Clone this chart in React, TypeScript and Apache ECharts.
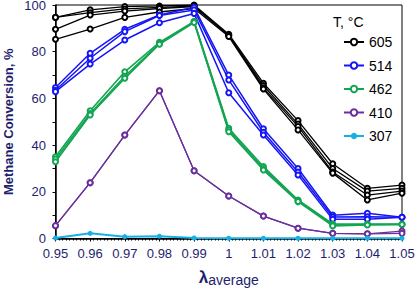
import React, { useEffect, useRef } from "react";
import * as echarts from "echarts";

const lambdas = [0.95, 0.96, 0.97, 0.98, 0.99, 1.0, 1.01, 1.02, 1.03, 1.04, 1.05];
const yTicks = [0, 20, 40, 60, 80, 100];

const temps = ["605", "514", "462", "410", "307"];
const colors = ["#000000", "#1515f5", "#12a552", "#6a2f9c", "#16b0e6"];

const t605a = [94.7, 97.9, 99.3, 99.6, 100, 87.5, 66.5, 50.5, 32.0, 21.5, 22.9];
const t605b = [94.7, 96.7, 98.3, 99.0, 99.5, 87.0, 65.5, 49.0, 30.0, 20.3, 21.5];
const t605c = [89.6, 95.7, 97.4, 98.5, 99.3, 87.0, 64.5, 48.0, 28.5, 18.6, 20.3];
const t605d = [85.3, 89.7, 94.7, 97.0, 98.5, 86.5, 64.0, 46.5, 28.0, 16.5, 19.4];

const t514a = [64.7, 79.3, 89.6, 95.7, 99.0, 70.0, 47.0, 30.0, 10.0, 10.8, 9.1];
const t514b = [63.5, 77.2, 88.6, 95.5, 97.9, 67.9, 45.5, 28.5, 9.2, 9.3, 9.1];
const t514c = [62.9, 74.7, 85.0, 92.4, 96.4, 62.4, 44.3, 27.2, 8.2, 8.2, 9.1];

const t462a = [35.0, 54.7, 71.4, 84.0, 93.0, 47.2, 30.8, 16.5, 6.2, 6.2, 6.2];
const t462b = [34.0, 53.5, 69.5, 83.5, 92.8, 46.5, 30.0, 16.0, 5.8, 6.0, 6.0];
const t462c = [32.9, 52.9, 68.6, 83.2, 92.5, 45.7, 29.3, 15.8, 5.4, 5.8, 6.0];

const t410a = [5.5, 23.9, 44.3, 63.3, 29.0, 18.2, 9.6, 4.4, 2.2, 2.0, 3.2];
const t410b = [5.5, 23.9, 44.3, 63.3, 29.0, 18.2, 9.6, 4.4, 2.2, 2.0, 2.2];

const t307a = [0.2, 2.2, 0.8, 1.0, 0.2, 0.1, 0.1, 0.1, 0.1, 0.1, 0.1];

const groups: { temp: string; lines: number[][]; width: number; symbol: string }[] = [
  { temp: "605", lines: [t605a, t605b, t605c, t605d], width: 1.3, symbol: "emptyCircle" },
  { temp: "514", lines: [t514a, t514b, t514c], width: 1.5, symbol: "emptyCircle" },
  { temp: "462", lines: [t462a, t462b, t462c], width: 1.6, symbol: "emptyCircle" },
  { temp: "410", lines: [t410a, t410b], width: 1.3, symbol: "emptyCircle" },
  { temp: "307", lines: [t307a], width: 2, symbol: "circle" },
];

const FONT = "'Liberation Sans', Arial, sans-serif";
const NAVY = "#1e1e6e";

export default function App() {
  const ref = useRef<HTMLDivElement>(null);
  useEffect(() => {
    if (!ref.current) return;
    const chart = echarts.init(ref.current, undefined, { renderer: "svg" });
    const series: any[] = [];
    groups.forEach((g) => {
      const color = colors[temps.indexOf(g.temp)];
      g.lines.forEach((vals) => {
        series.push({
          name: g.temp,
          type: "line",
          data: lambdas.map((l, i) => [Math.round(l * 100), vals[i]]),
          symbol: g.symbol,
          symbolSize: 5,
          color,
          lineStyle: { color, width: g.width },
          itemStyle: { color, borderWidth: 1 },
          emphasis: { disabled: true },
        });
      });
    });
    chart.setOption({
      animation: false,
      textStyle: { fontFamily: FONT },
      grid: {
        left: 55.5,
        right: 13,
        top: 5,
        bottom: 49.5,
        outerBoundsMode: "none",
        containLabel: false,
        show: true,
        borderColor: "#000",
        borderWidth: 1,
      },
      legend: {
        data: temps,
        orient: "vertical",
        left: 338,
        top: 29,
        itemWidth: 20,
        itemHeight: 8,
        itemGap: 7.5,
        textStyle: { fontSize: 14, color: "#000", fontFamily: FONT, lineHeight: 16 },
      },
      graphic: [
        {
          type: "text",
          left: 333,
          top: 15,
          style: { text: "T, °C", fontSize: 14, fill: "#000", fontFamily: FONT },
        },
      ],
      xAxis: {
        type: "value",
        min: 95,
        max: 105,
        interval: 1,
        axisLine: { lineStyle: { color: "#000", width: 1.5 } },
        axisTick: { show: true, length: 3, lineStyle: { color: "#000" } },
        minorTick: { show: true, splitNumber: 10, length: 2, lineStyle: { color: "#000" } },
        splitLine: { show: false },
        axisLabel: {
          formatter: (v: number) => String(v / 100),
          fontSize: 13,
          color: NAVY,
          fontFamily: FONT,
          margin: 8.5,
        },
        name: "{l|λ}{s|average}",
        nameLocation: "middle",
        nameGap: 30,
        nameMoveOverlap: false,
        nameTextStyle: {
          rich: {
            l: { fontSize: 17, fontWeight: "bold", color: NAVY, fontFamily: FONT, verticalAlign: "top", lineHeight: 18 },
            s: { fontSize: 14, color: NAVY, fontFamily: FONT, verticalAlign: "bottom", lineHeight: 18, padding: [4, 0, 0, 0] },
          },
        },
      },
      yAxis: {
        type: "value",
        min: yTicks[0],
        max: yTicks[yTicks.length - 1],
        interval: 20,
        axisLine: { show: true, lineStyle: { color: "#000", width: 1.5 } },
        axisTick: { show: true, length: 3, lineStyle: { color: "#000" } },
        minorTick: { show: true, splitNumber: 2, length: 3, lineStyle: { color: "#000" } },
        splitLine: { show: false },
        axisLabel: { fontSize: 13, color: NAVY, fontFamily: FONT, margin: 9.5 },
        name: "Methane Conversion, %",
        nameLocation: "middle",
        nameGap: 41,
        nameMoveOverlap: false,
        nameTextStyle: { fontSize: 13, fontWeight: "bold", color: NAVY, fontFamily: FONT },
      },
      series,
    });
    return () => chart.dispose();
  }, []);
  return (
    <div
      ref={ref}
      style={{ width: 415, height: 288, position: "fixed", left: 0, top: 0, background: "#fff" }}
    />
  );
}
